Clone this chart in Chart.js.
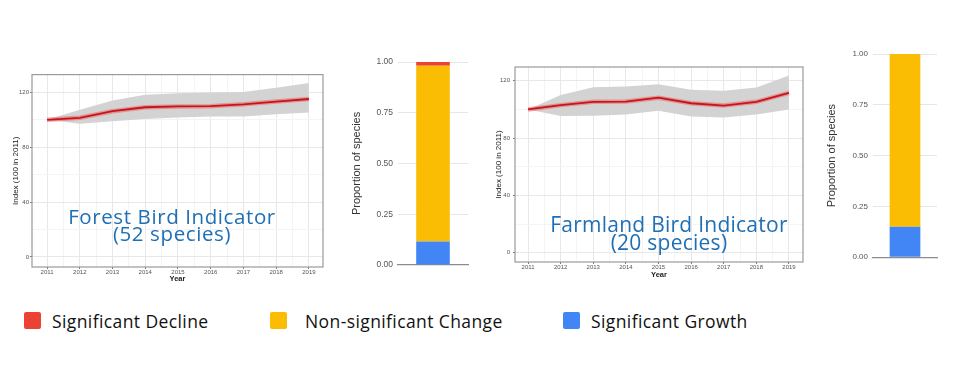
<!DOCTYPE html>
<html>
<head>
<meta charset="utf-8">
<script src="https://cdn.jsdelivr.net/npm/chart.js@4.4.1/dist/chart.umd.min.js"></script>
<style>
  html, body { margin: 0; padding: 0; background: #fff; }
  #stage { position: relative; width: 953px; height: 370px; overflow: hidden; background: #fff; }
  canvas { position: absolute; }
  .title {
    position: absolute; text-align: center; color: #1f6fb4;
    font-family: "Open Sans", Lato, sans-serif; white-space: nowrap; z-index: 2;
  }
  .key { position: absolute; width: 17px; height: 17px; border-radius: 2px; }
  .keyText {
    position: absolute; font-family: "Open Sans", Lato, sans-serif; font-size: 17.5px;
    line-height: 18px; color: #111; white-space: nowrap; letter-spacing: 0.4px;
  }
</style>
</head>
<body>
<div id="stage">
  <canvas id="forestLine" width="326" height="220" style="left:0px;top:70px"></canvas>
  <canvas id="forestBar" width="132" height="225" style="left:340px;top:50px"></canvas>
  <canvas id="farmLine" width="323" height="225" style="left:483px;top:60px"></canvas>
  <canvas id="farmBar" width="126" height="223" style="left:815px;top:44px"></canvas>

  <div class="title" style="left:22px;top:207.5px;width:300px;font-size:20.5px;line-height:17.5px;letter-spacing:0.6px">Forest Bird Indicator<br>(52 species)</div>
  <div class="title" style="left:519px;top:215px;width:300px;font-size:21px;line-height:18px;letter-spacing:0.25px">Farmland Bird Indicator<br>(20 species)</div>

  <div class="key" style="left:24px;top:312px;background:#ea4335"></div>
  <div class="keyText" style="left:52px;top:312px">Significant Decline</div>
  <div class="key" style="left:270px;top:312px;background:#fbbc04"></div>
  <div class="keyText" style="left:305px;top:312px">Non-significant Change</div>
  <div class="key" style="left:563px;top:312px;background:#4285f4"></div>
  <div class="keyText" style="left:591px;top:312px">Significant Growth</div>
</div>
<script>
// ─────────────────────────────────────────────
//  Data
// ─────────────────────────────────────────────
const years = [2011, 2012, 2013, 2014, 2015, 2016, 2017, 2018, 2019];

const forestIndex = [100, 101.5, 106.3, 109.2, 109.8, 110.0, 111.3, 113.3, 115.2];
const forestUpper = [100, 107.4, 114.2, 118.3, 119.4, 120.0, 120.4, 123.4, 126.8];
const forestLower = [100, 97.2, 98.9, 100.6, 101.7, 102.4, 102.4, 104.0, 105.3];

const farmIndex = [100, 103.0, 105.3, 105.5, 108.2, 104.3, 102.7, 105.3, 111.5];
const farmUpper = [100, 110.0, 115.4, 116.0, 117.6, 113.8, 113.0, 115.3, 123.6];
const farmLower = [100, 95.4, 95.6, 96.5, 99.0, 95.0, 94.3, 96.5, 100.0];

const categories = ["Significant Growth", "Non-significant Change", "Significant Decline"];
const forestShares = [0.115, 0.866, 0.019];
const farmShares = [0.15, 0.85, 0];

const indexTicks = [0, 20, 40, 60, 80, 100, 120];
const indexLabels = [0, 40, 80, 120];
const shareTicks = [0, 0.25, 0.5, 0.75, 1];

// ─────────────────────────────────────────────
//  Styles
// ─────────────────────────────────────────────
Chart.defaults.font.family = "'Liberation Sans', Arial, sans-serif";
Chart.defaults.animation = false;

const C_BAND  = "#d3d3d3";
const C_LINE  = "#c3161c";
const C_HALO  = "rgba(240, 95, 95, 0.55)";
const catColors = ["#4285f4", "#fbbc04", "#ea4335"];

// plot frame like ggplot theme_bw
const framePlugin = {
  id: "frame",
  afterDraw(chart) {
    const { ctx, chartArea: a } = chart;
    ctx.save();
    ctx.strokeStyle = "#9a9a9a";
    ctx.lineWidth = 1.2;
    ctx.strokeRect(a.left, a.top, a.right - a.left, a.bottom - a.top);
    ctx.restore();
  },
};

const toPoints = (vals) => years.map((y, i) => ({ x: y, y: vals[i] }));

// ── Index line chart with confidence band ──
function makeLine(id, idx, lo, hi, cfg) {
  const halfYears = [];
  years.forEach((y, i) => {
    halfYears.push(y);
    if (i < years.length - 1) halfYears.push(y + 0.5);
  });

  return new Chart(document.getElementById(id), {
    type: "line",
    data: {
      datasets: [
        { data: toPoints(idx), borderColor: C_LINE, borderWidth: 1.8, pointRadius: 0, fill: false },
        { data: toPoints(idx), borderColor: C_HALO, borderWidth: 4.5, pointRadius: 0, fill: false },
        { data: toPoints(lo), borderWidth: 0, pointRadius: 0, fill: false },
        { data: toPoints(hi), borderWidth: 0, pointRadius: 0, backgroundColor: C_BAND, fill: 2 },
      ],
    },
    options: {
      responsive: false,
      devicePixelRatio: 1,
      layout: { padding: { top: cfg.padTop, right: 3, left: 0, bottom: 0 } },
      plugins: { legend: { display: false }, tooltip: { enabled: false } },
      scales: {
        x: {
          type: "linear",
          min: cfg.xMin,
          max: cfg.xMax,
          afterBuildTicks: (s) => { s.ticks = halfYears.map((v) => ({ value: v })); },
          afterFit: (s) => { s.height = 23; },
          grid: {
            color: (c) => (c.tick && Number.isInteger(c.tick.value) ? "#e8e8e8" : "#f4f4f4"),
            tickColor: (c) => (c.tick && Number.isInteger(c.tick.value) ? "#777" : "rgba(0,0,0,0)"),
            tickLength: 2,
          },
          border: { display: false },
          ticks: {
            autoSkip: false, maxRotation: 0, padding: 0, color: "#555",
            font: { size: 6 },
            callback: (v) => (Number.isInteger(v) ? String(v) : ""),
          },
          title: {
            display: true, text: "Year", color: "#222",
            font: { size: 7.5, weight: "bold" }, padding: { top: 0, bottom: cfg.yearPad },
          },
        },
        y: {
          min: cfg.yMin,
          max: cfg.yMax,
          afterBuildTicks: (s) => { s.ticks = indexTicks.map((v) => ({ value: v })); },
          afterFit: (s) => { s.width = 32; },
          grid: {
            color: (c) => (c.tick && indexLabels.includes(c.tick.value) ? "#e8e8e8" : "#f4f4f4"),
            tickColor: (c) => (c.tick && indexLabels.includes(c.tick.value) ? "#777" : "rgba(0,0,0,0)"),
            tickLength: 2,
          },
          border: { display: false },
          ticks: {
            padding: cfg.yTickPad, color: "#555", font: { size: 6 },
            callback: (v) => (indexLabels.includes(v) ? String(v) : ""),
          },
          title: {
            display: true, text: "Index (100 in 2011)", color: "#222",
            font: { size: 8 }, padding: { top: cfg.titlePad, bottom: 0 },
          },
        },
      },
    },
    plugins: [framePlugin],
  });
}

// ── Stacked proportion bar ──
function makeBar(id, shares, cfg) {
  return new Chart(document.getElementById(id), {
    type: "bar",
    data: {
      labels: [""],
      datasets: categories.map((name, i) => ({
        label: name,
        data: [shares[i]],
        backgroundColor: catColors[i],
        borderWidth: 0,
        categoryPercentage: 1,
        barPercentage: 0.48,
      })),
    },
    options: {
      responsive: false,
      devicePixelRatio: 1,
      layout: { padding: { top: cfg.padTop, right: 4, left: 0, bottom: 0 } },
      plugins: { legend: { display: false }, tooltip: { enabled: false } },
      scales: {
        x: {
          stacked: true,
          afterFit: (s) => { s.height = 6; },
          grid: { display: false },
          border: { display: true, color: "#8c8c8c", width: 1.2 },
          ticks: { display: false },
        },
        y: {
          stacked: true,
          min: 0,
          max: 1,
          afterBuildTicks: (s) => { s.ticks = shareTicks.map((v) => ({ value: v })); },
          afterFit: (s) => { s.width = 58; },
          grid: { color: (c) => (c.tick && c.tick.value === 0 ? "rgba(0,0,0,0)" : "#e6e6e6"), drawTicks: false },
          border: { display: false },
          ticks: {
            padding: 5, color: "#555", font: { size: cfg.tickSize },
            callback: (v) => v.toFixed(2),
          },
          title: {
            display: true, text: "Proportion of species", color: "#333",
            font: { size: 11 }, padding: { top: 10.4, bottom: 0 },
          },
        },
      },
    },
  });
}

makeLine("forestLine", forestIndex, forestLower, forestUpper, {
  padTop: 4, xMin: 2010.54, xMax: 2019.43, yMin: -7.3, yMax: 133,
  yearPad: 6.5, yTickPad: 1, titlePad: 11,
});
makeLine("farmLine", farmIndex, farmLower, farmUpper, {
  padTop: 7, xMin: 2010.6, xMax: 2019.43, yMin: -6.5, yMax: 129.6,
  yearPad: 5.5, yTickPad: 3, titlePad: 11,
});
makeBar("forestBar", forestShares, { padTop: 12, tickSize: 8.5 });
makeBar("farmBar", farmShares, { padTop: 10, tickSize: 8 });
</script>
</body>
</html>
